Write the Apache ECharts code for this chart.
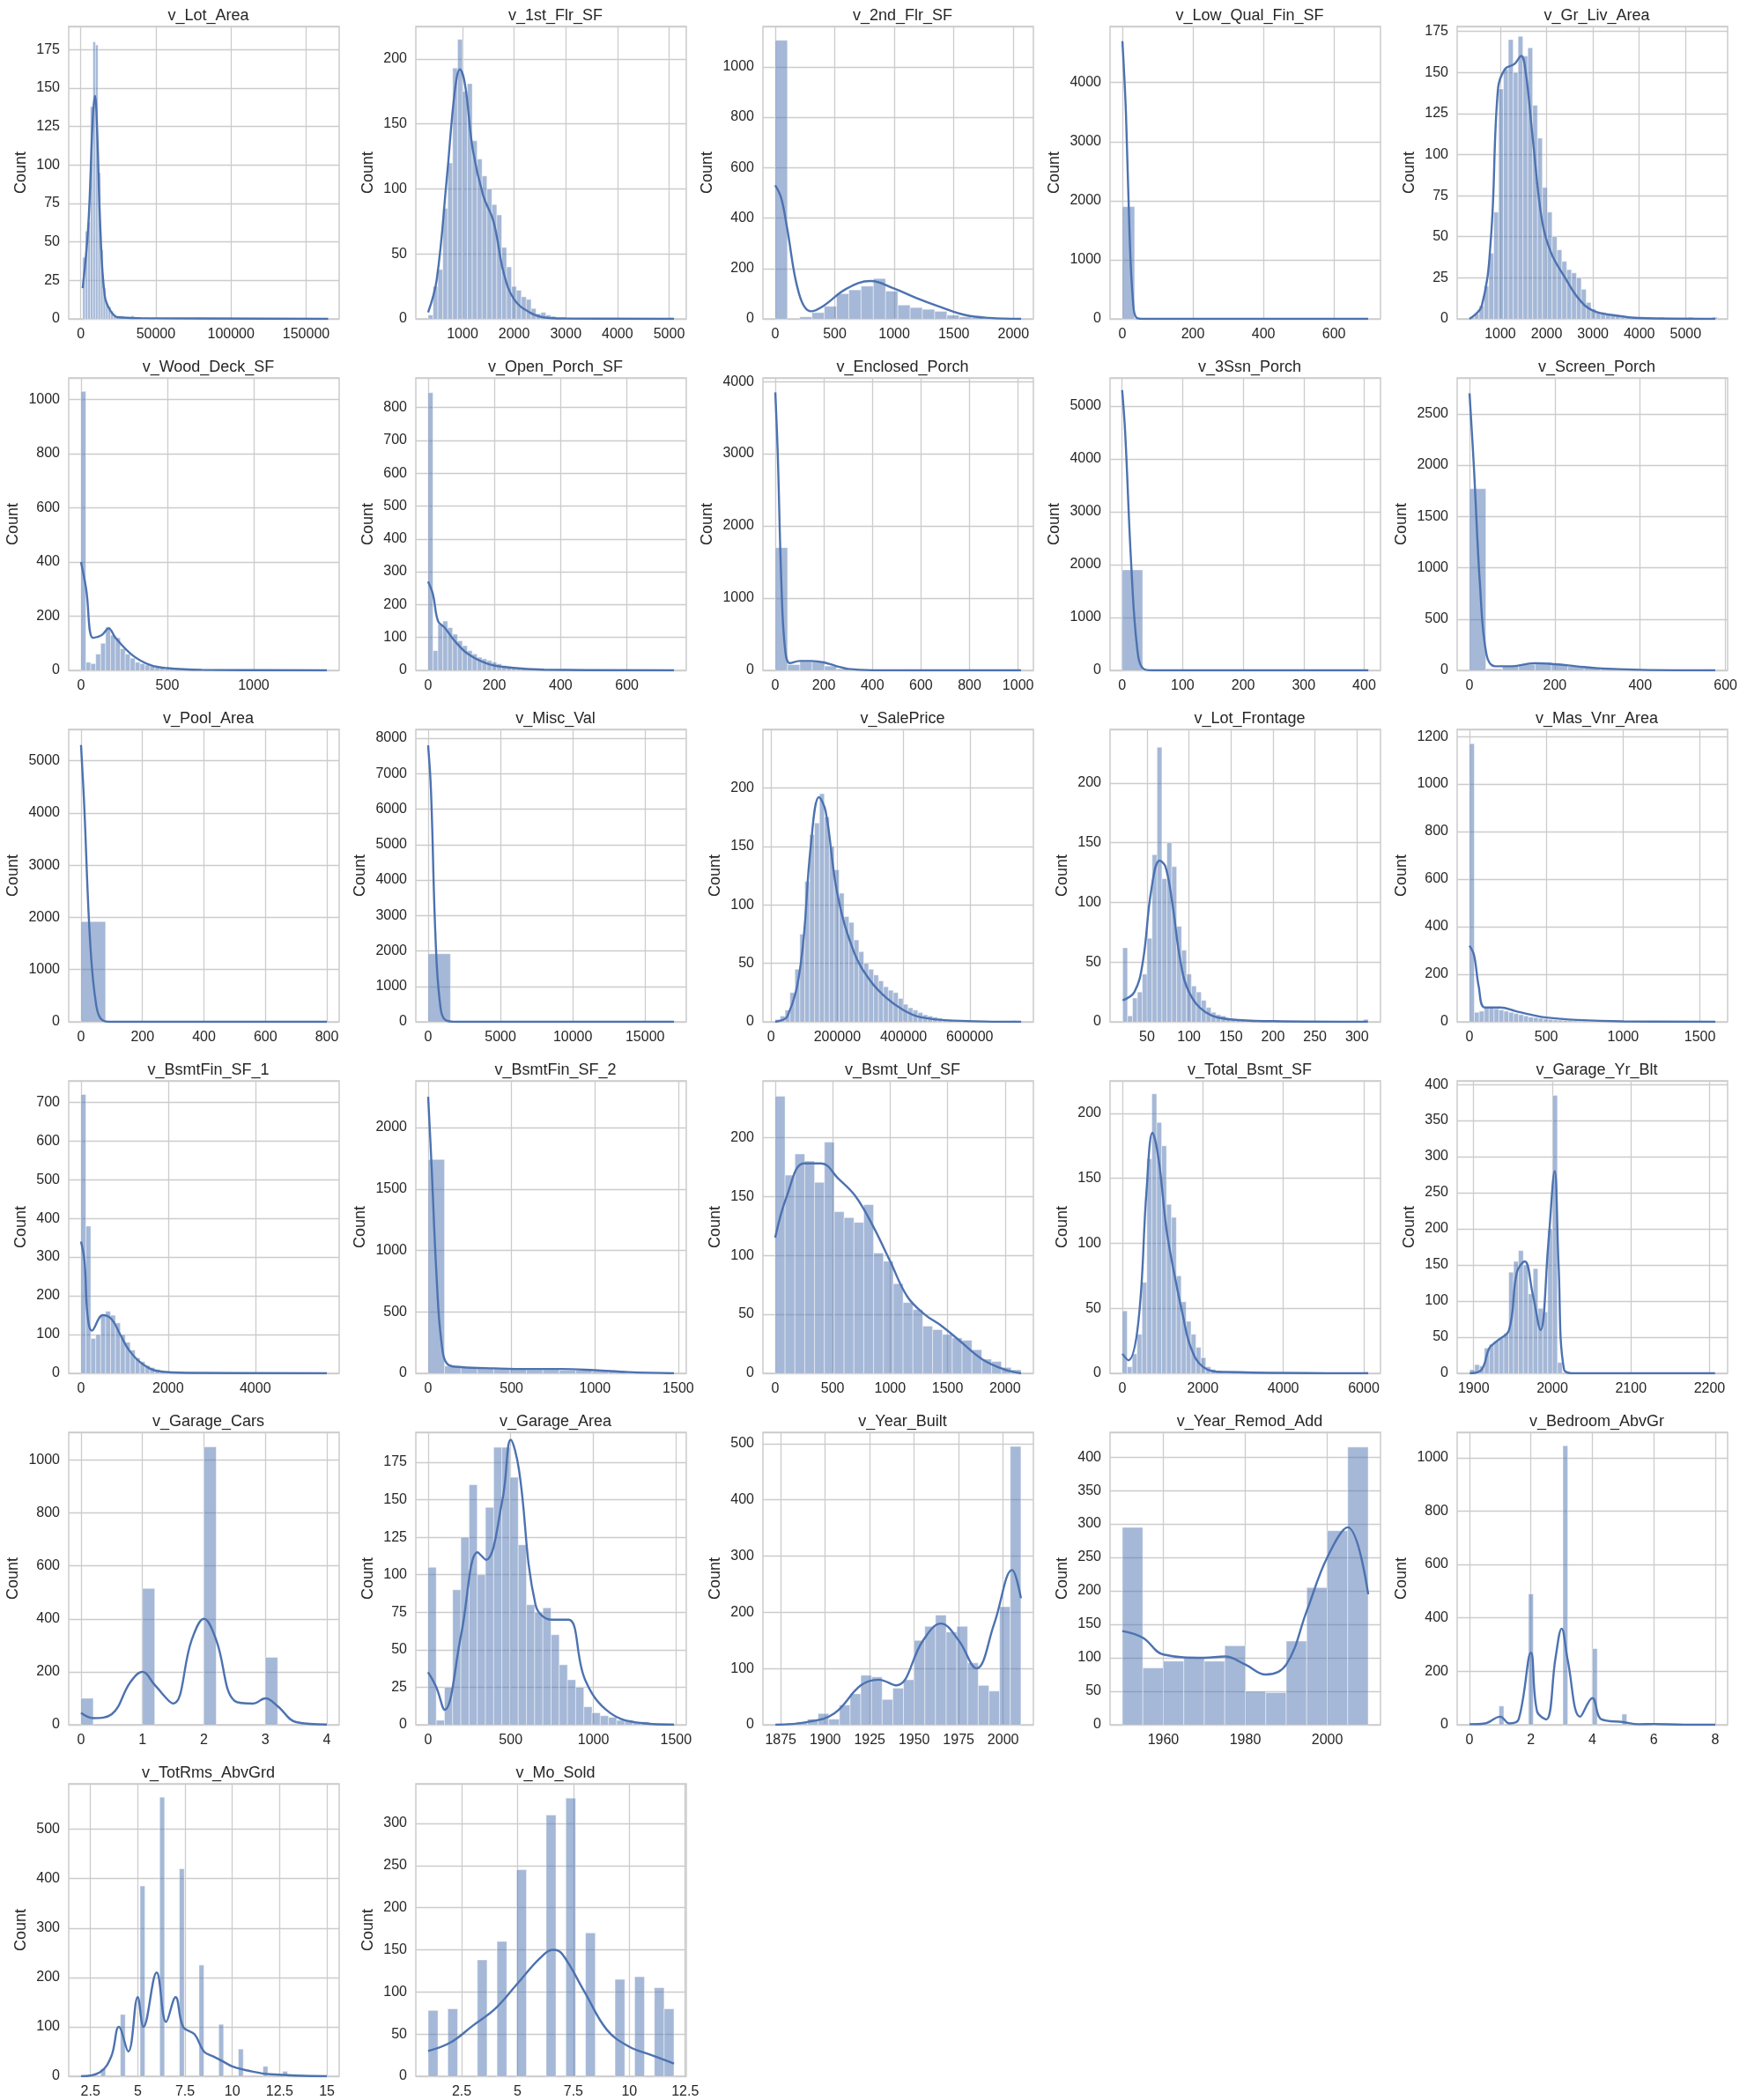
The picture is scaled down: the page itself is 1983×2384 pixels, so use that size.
<!DOCTYPE html>
<html>
<head>
<meta charset="utf-8">
<script src="https://cdn.jsdelivr.net/npm/echarts@6/dist/echarts.min.js"></script>
<style>html,body{margin:0;background:#fff}#c{width:1983px;height:2384px}</style>
</head>
<body>
<div id="c"></div>
<script>
// histogram counts: [binStart, binWidth, counts] ; kde: [x, y] pairs
const lotAreaHist = [1300, 1700, [40,57,63,138,180,178,95,45,20,10,8,5,3,2,2,2,1,1,1,2,1,1,1,1,1,1,0,0,1,1]];
const lotAreaKde = [[1300,20],[5000,60],[8000,130],[9500,145],[11000,120],[13000,60],[16000,15],[20000,5],[25000,1],[40000,0.5],[164660,0]];
const firstFlrHist = [334, 95, [3,25,38,85,120,193,215,175,181,137,123,110,100,88,80,55,40,25,22,17,15,8,4,5,3,2,1,1,1,0,0,0,0,0,0,0,0,0,0,0,0,0,0,0,0,0,0,0,0,1]];
const firstFlrKde = [[334,5],[500,30],[700,110],[850,175],[950,192],[1050,180],[1200,130],[1400,95],[1600,75],[1800,35],[2000,15],[2300,5],[2600,1],[3000,0.3],[5095,0]];
const secondFlrHist = [0, 103, [1105,0,8,25,50,100,115,130,160,110,55,45,38,30,15,8,5,3,2,1]];
const secondFlrKde = [[0,530],[50,480],[100,360],[200,100],[300,30],[400,50],[600,120],[800,150],[1000,120],[1200,80],[1400,45],[1600,15],[1800,4],[2065,0]];
const lowQualHist = [0, 34.8, [1900,0,2,1,1,2,1,1,1,1,0,1,1,1,1,0,0,0,0,1]];
const lowQualKde = [[0,4700],[10,3500],[20,1500],[30,300],[40,20],[60,0],[697,0]];
const grLivHist = [334, 105, [1,3,8,20,40,65,140,152,170,150,172,160,165,130,110,80,65,50,42,35,30,28,25,18,10,6,4,4,3,2,2,1,1,0,0,0,0,0,0,1,0,0,0,0,0,1,0,0,0,0,1]];
const grLivKde = [[334,0],[600,8],[800,50],[950,140],[1100,152],[1300,155],[1450,160],[1550,150],[1700,110],[1900,60],[2100,40],[2400,25],[2700,12],[3000,5],[3500,2],[4000,0.5],[5642,0]];
const woodDeckHist = [0, 28.5, [1030,30,25,60,100,160,130,120,80,60,45,30,25,20,15,10,8,5,4,3,2,2,1,1,1,0,1,0,0,1,0,0,0,0,0,0,0,0,0,0,0,0,0,0,0,0,0,0,0,1]];
const woodDeckKde = [[0,400],[30,300],[70,120],[120,130],[160,155],[200,120],[300,55],[400,20],[500,8],[700,2],[1424,0]];
const openPorchHist = [0, 14.8, [845,60,140,150,130,110,90,75,60,50,40,35,30,25,20,15,12,10,8,6,5,4,3,2,1,1,1,0,1,0,0,1,0,0,0,0,0,0,0,0,0,0,0,0,0,0,0,0,0,1]];
const openPorchKde = [[0,270],[15,230],[30,150],[50,130],[80,90],[120,50],[180,20],[250,8],[350,2],[742,0]];
const enclosedHist = [0, 50.6, [1700,80,120,120,60,20,5,2,1,0,0,0,0,0,0,0,0,0,0,1]];
const enclosedKde = [[0,3850],[10,3000],[25,1200],[40,300],[60,100],[100,130],[150,130],[200,110],[250,60],[300,20],[400,2],[1012,0]];
const ssnHist = [0, 34, [1900,3,5,10,5,5,3,2,1,0,1,1]];
const ssnKde = [[0,5300],[5,4500],[15,2000],[25,400],[35,30],[50,0],[407,0]];
const screenHist = [0, 38.4, [1770,15,40,60,80,60,40,30,20,10,5,3,2,1,1]];
const screenKde = [[0,2700],[10,2000],[25,800],[40,150],[60,40],[100,40],[150,70],[200,60],[250,40],[300,20],[400,5],[576,0]];
const poolHist = [0, 80, [1920,0,0,0,0,1,2,1,1,1]];
const poolKde = [[0,5300],[10,4200],[30,1500],[50,300],[70,30],[100,0],[800,0]];
const miscHist = [0, 1545, [1920,8,4,2,1,0,0,0,0,0,1]];
const miscKde = [[0,7800],[200,6500],[500,2500],[800,600],[1200,50],[2000,0],[17000,0]];
const salePriceHist = [12789, 14845, [2,5,10,25,45,75,120,160,170,195,175,150,130,110,90,85,70,60,50,45,40,35,30,27,25,20,15,12,10,8,6,5,4,3,2,2,1,1,1,0,0,0,1,0,0,0,0,0,1]];
const salePriceKde = [[12789,0],[50000,5],[90000,50],[120000,150],[145000,192],[165000,180],[200000,110],[250000,60],[300000,35],[350000,20],[400000,10],[450000,4],[550000,1],[755000,0]];
const frontageHist = [21, 5.85, [62,5,20,25,40,70,140,230,120,150,130,80,60,40,30,25,18,12,8,6,5,3,2,2,1,1,0,1,0,0,0,0,0,0,0,0,0,0,0,0,0,0,0,0,0,0,0,0,0,2]];
const frontageKde = [[21,18],[35,25],[45,50],[55,110],[65,135],[72,130],[80,100],[90,50],[100,25],[120,8],[150,2],[200,0.5],[313,0]];
const masVnrHist = [0, 32, [1170,40,45,60,60,55,50,45,40,35,30,25,20,18,15,12,10,8,7,6,5,4,3,3,2,2,2,1,1,1,1,0,1,0,0,1,0,0,0,0,0,0,0,0,0,0,0,0,0,1]];
const masVnrKde = [[0,320],[30,280],[60,150],[100,60],[200,60],[300,45],[400,30],[500,18],[700,8],[1000,2],[1600,0]];
const bsmtFin1Hist = [0, 113, [720,380,90,100,150,160,150,130,100,80,60,40,30,20,15,10,5,3,2,1,1,0,0,0,0,0,0,0,0,0,0,0,0,0,0,0,0,0,0,0,0,0,0,0,0,0,0,0,0,1]];
const bsmtFin1Kde = [[0,340],[80,290],[150,150],[250,110],[500,150],[700,140],[900,100],[1100,60],[1400,25],[1800,5],[2500,1],[5644,0]];
const bsmtFin2Hist = [0, 98.3, [1740,60,50,45,40,35,30,30,25,25,15,20,5,3,2]];
const bsmtFin2Kde = [[0,2250],[20,1700],[50,800],[80,250],[120,70],[200,50],[400,40],[600,35],[800,35],[1000,25],[1200,10],[1474,0]];
const bsmtUnfHist = [0, 85.6, [235,168,186,180,162,196,137,132,128,143,102,95,76,60,54,40,37,33,30,28,20,12,10,5,3]];
const bsmtUnfKde = [[0,115],[100,150],[250,178],[400,178],[550,165],[700,150],[850,125],[1000,95],[1150,65],[1300,50],[1450,40],[1600,28],[1800,12],[2000,3],[2140,0]];
const totalBsmtHist = [0, 122, [48,5,15,30,70,165,215,193,175,130,120,75,55,40,30,20,12,5,3,2,1,1,0,0,0,0,0,0,0,0,0,0,0,0,0,0,0,0,0,0,0,0,0,0,0,0,0,0,0,1]];
const totalBsmtKde = [[0,15],[150,10],[400,40],[600,140],[750,185],[900,165],[1100,110],[1300,75],[1500,45],[1700,20],[2000,5],[2500,1],[6110,0]];
const garageYrHist = [1895, 6.2, [5,12,10,35,40,45,50,55,140,155,170,150,110,145,90,85,200,385,15,0,0,0,0,0,0,0,0,0,0,0,0,0,0,0,0,0,0,0,0,0,0,0,0,0,0,0,0,0,0,1]];
const garageYrKde = [[1895,0],[1910,5],[1920,35],[1930,45],[1945,60],[1955,140],[1965,155],[1975,110],[1985,60],[1995,180],[2003,280],[2008,150],[2015,5],[2030,0],[2207,0]];
const garageCarsHist = [0, 0.2, [100,0,0,0,0,515,0,0,0,0,1050,0,0,0,0,255,0,0,0,2]];
const garageCarsKde = [[0,45],[0.2,25],[0.5,40],[0.8,160],[1,200],[1.2,150],[1.5,80],[1.8,320],[2,400],[2.2,320],[2.5,90],[2.8,80],[3,100],[3.2,70],[3.5,10],[4,1]];
const garageAreaHist = [0, 49.6, [105,3,25,90,125,160,100,145,185,185,165,120,80,75,78,60,40,30,25,12,8,6,5,3,3,2,2,1,1,1]];
const garageAreaKde = [[0,35],[50,25],[100,10],[200,60],[300,115],[350,110],[450,150],[500,190],[550,170],[650,80],[750,70],[850,70],[950,30],[1100,8],[1300,1],[1488,0]];
const yearBuiltHist = [1872, 6, [1,3,5,10,20,10,35,55,88,85,45,65,80,150,175,195,165,175,110,70,60,210,495]];
const yearBuiltKde = [[1872,0],[1890,5],[1905,20],[1920,70],[1930,80],[1940,70],[1955,150],[1965,180],[1975,150],[1985,100],[1995,180],[2005,275],[2010,225]];
const remodHist = [1950, 5, [295,85,95,100,95,118,50,48,125,205,290,415]];
const remodKde = [[1950,140],[1955,130],[1960,105],[1970,100],[1975,102],[1980,90],[1985,75],[1990,90],[1995,170],[2000,250],[2005,295],[2010,195]];
const bedroomHist = [0, 0.16, [5,0,0,0,0,0,70,0,0,0,0,0,490,0,0,0,0,0,0,1045,0,0,0,0,0,285,0,0,0,0,0,40,0,0,0,0,0,5,0,0,0,0,0,0,0,0,0,0,0,1]];
const bedroomKde = [[0,2],[0.5,5],[1,30],[1.3,5],[1.6,20],[2,270],[2.2,50],[2.5,20],[2.8,250],[3,360],[3.2,240],[3.6,30],[4,100],[4.3,20],[5,10],[5.5,2],[6,3],[7,0],[8,0]];
const totRmsHist = [2, 0.26, [1,0,0,0,15,0,0,0,125,0,0,0,385,0,0,0,565,0,0,0,420,0,0,0,225,0,0,0,105,0,0,0,55,0,0,0,0,20,0,0,0,10,0,0,0,1,0,0,0,1]];
const totRmsKde = [[2,0],[3,8],[3.6,40],[4,100],[4.5,50],[5,160],[5.3,100],[6,210],[6.5,110],[7,160],[7.4,100],[8,85],[8.5,50],[9,40],[9.5,30],[10,20],[11,10],[12,4],[15,0]];
const moSoldHist = [1, 0.44, [78,0,80,0,0,138,0,160,0,245,0,0,310,0,330,0,170,0,0,115,0,118,0,105,80]];
const moSoldKde = [[1,30],[2,40],[3,60],[4,80],[5,110],[6,140],[6.6,150],[7,145],[8,100],[9,55],[10,35],[11,25],[12,15]];

const titles = ['v_Lot_Area','v_1st_Flr_SF','v_2nd_Flr_SF','v_Low_Qual_Fin_SF','v_Gr_Liv_Area','v_Wood_Deck_SF','v_Open_Porch_SF','v_Enclosed_Porch','v_3Ssn_Porch','v_Screen_Porch','v_Pool_Area','v_Misc_Val','v_SalePrice','v_Lot_Frontage','v_Mas_Vnr_Area','v_BsmtFin_SF_1','v_BsmtFin_SF_2','v_Bsmt_Unf_SF','v_Total_Bsmt_SF','v_Garage_Yr_Blt','v_Garage_Cars','v_Garage_Area','v_Year_Built','v_Year_Remod_Add','v_Bedroom_AbvGr','v_TotRms_AbvGrd','v_Mo_Sold'];
const hists = [lotAreaHist,firstFlrHist,secondFlrHist,lowQualHist,grLivHist,woodDeckHist,openPorchHist,enclosedHist,ssnHist,screenHist,poolHist,miscHist,salePriceHist,frontageHist,masVnrHist,bsmtFin1Hist,bsmtFin2Hist,bsmtUnfHist,totalBsmtHist,garageYrHist,garageCarsHist,garageAreaHist,yearBuiltHist,remodHist,bedroomHist,totRmsHist,moSoldHist];
const kdes = [lotAreaKde,firstFlrKde,secondFlrKde,lowQualKde,grLivKde,woodDeckKde,openPorchKde,enclosedKde,ssnKde,screenKde,poolKde,miscKde,salePriceKde,frontageKde,masVnrKde,bsmtFin1Kde,bsmtFin2Kde,bsmtUnfKde,totalBsmtKde,garageYrKde,garageCarsKde,garageAreaKde,yearBuiltKde,remodKde,bedroomKde,totRmsKde,moSoldKde];
// x range [min, max], x tick labels, y max, y tick step
const xRanges = [[-8000,172000],[96,5333],[-103,2168],[-35,732],[69,5907],[-71,1495],[-37,779],[-51,1063],[-20,427],[-29,605],[-40,840],[-850,17850],[-24300,792000],[6,328],[-80,1680],[-282,5926],[-74,1548],[-107,2247],[-306,6416],[1879,2223],[-0.2,4.2],[-74,1562],[1865,2017],[1947,2013],[-0.4,8.4],[1.35,15.65],[0.45,12.55]];
const xTicks = [[0,50000,100000,150000],[1000,2000,3000,4000,5000],[0,500,1000,1500,2000],[0,200,400,600],[1000,2000,3000,4000,5000],[0,500,1000],[0,200,400,600],[0,200,400,600,800,1000],[0,100,200,300,400],[0,200,400,600],[0,200,400,600,800],[0,5000,10000,15000],[0,200000,400000,600000],[50,100,150,200,250,300],[0,500,1000,1500],[0,2000,4000],[0,500,1000,1500],[0,500,1000,1500,2000],[0,2000,4000,6000],[1900,2000,2100,2200],[0,1,2,3,4],[0,500,1000,1500],[1875,1900,1925,1950,1975,2000],[1960,1980,2000],[0,2,4,6,8],[2.5,5,7.5,10,12.5,15],[2.5,5,7.5,10,12.5]];
const yMax = [190,225,1160,4950,178,1080,890,4050,5530,2850,5600,8250,250,245,1230,755,2380,248,225,405,1105,195,520,437,1095,592,347];
const yStep = [25,50,200,1000,25,200,100,1000,1000,500,1000,1000,50,50,200,100,500,50,50,50,200,25,100,50,200,100,50];

const chart = echarts.init(document.getElementById('c'));
const blue = '#4c72b0';
const fmt = v => (Math.abs(v % 1) > 1e-9 ? v.toFixed(1) : String(v));
const option = { backgroundColor: '#fff', animation: false, title: [], grid: [], xAxis: [], yAxis: [], series: [] };

titles.forEach((t, i) => {
  const col = i % 5, row = Math.floor(i / 5);
  const left = 78 + col * 394, top = 30 + row * 399, w = 307, h = 332;
  option.title.push({ text: t, left: left + w / 2, top: top - 26, textAlign: 'center',
    textStyle: { fontFamily: 'Liberation Sans', fontSize: 18, fontWeight: 'normal', color: '#262626' } });
  option.grid.push({ left: left, top: top, width: w, height: h, show: true,
    borderColor: '#cccccc', borderWidth: 1.5, backgroundColor: '#fff' });
  const ticks = xTicks[i];
  option.xAxis.push({ type: 'value', gridIndex: i, min: xRanges[i][0], max: xRanges[i][1],
    axisLine: { show: false }, axisTick: { show: false, customValues: ticks },
    splitLine: { show: true, customValues: ticks, lineStyle: { color: '#cccccc', width: 1.3 } },
    axisLabel: { customValues: ticks, formatter: fmt, color: '#262626', fontSize: 16, margin: 10, fontFamily: 'Liberation Sans' } });
  const maxLen = String(Math.floor(yMax[i] / yStep[i]) * yStep[i]).length;
  option.yAxis.push({ type: 'value', gridIndex: i, min: 0, max: yMax[i], interval: yStep[i],
    name: 'Count', nameLocation: 'middle', nameGap: 16 + maxLen * 9.5,
    nameTextStyle: { fontSize: 18, color: '#262626', fontFamily: 'Liberation Sans' },
    axisLine: { show: false }, axisTick: { show: false },
    splitLine: { lineStyle: { color: '#cccccc', width: 1.3 } },
    axisLabel: { formatter: fmt, color: '#262626', fontSize: 16, margin: 10, fontFamily: 'Liberation Sans', showMaxLabel: false } });
  const [start, bw, counts] = hists[i];
  option.series.push({
    type: 'custom', xAxisIndex: i, yAxisIndex: i,
    data: counts.map((c, k) => [start + k * bw, start + (k + 1) * bw, c]).filter(d => d[2] > 0),
    renderItem: (params, api) => {
      const p0 = api.coord([api.value(0), api.value(2)]);
      const p1 = api.coord([api.value(1), 0]);
      return { type: 'rect', shape: { x: p0[0], y: p0[1], width: p1[0] - p0[0], height: p1[1] - p0[1] },
        style: { fill: 'rgba(76,114,176,0.5)', stroke: 'rgba(255,255,255,0.8)', lineWidth: 0.6 } };
    }
  });
  option.series.push({ type: 'line', xAxisIndex: i, yAxisIndex: i, data: kdes[i], smooth: 0.4,
    showSymbol: false, lineStyle: { color: blue, width: 2.4 } });
});

chart.setOption(option);
</script>
</body>
</html>
